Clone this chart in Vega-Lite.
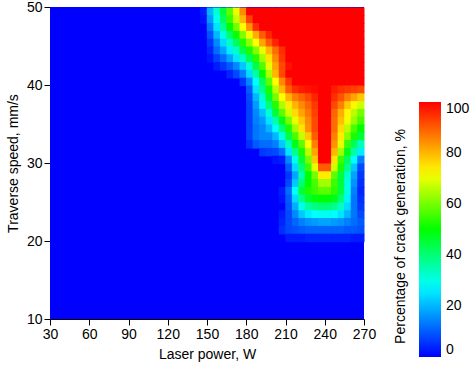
{
"$schema": "https://vega.github.io/schema/vega-lite/v6.json",
"width": 314,
"height": 312,
"autosize": {"type": "none"},
"padding": {"left": 50, "top": 7, "right": 110, "bottom": 47},
"config": {
  "view": {"stroke": null},
  "font": "Liberation Sans",
  "axis": {"labelFont": "Liberation Sans", "titleFont": "Liberation Sans", "labelFontSize": 14, "titleFontSize": 14, "titleFontWeight": "normal", "labelColor": "#000", "titleColor": "#000", "tickColor": "#000", "domainColor": "#000", "tickSize": 6, "grid": false, "labelPadding": 2, "labelFlush": false}
},
"resolve": {"scale": {"y": "independent"}, "axis": {"y": "independent"}},
"layer": [
  {
    "data": {"values": [{"p0": 30, "p1": 270, "s0": 10, "s1": 50, "c": 0}]},
    "mark": {"type": "rect"},
    "encoding": {
      "x": {"field": "p0", "type": "quantitative", "scale": {"domain": [30, 270], "nice": false}, "title": "Laser power, W", "axis": {"values": [30, 60, 90, 120, 150, 180, 210, 240, 270], "titlePadding": 6}},
      "x2": {"field": "p1"},
      "y": {"field": "s0", "type": "quantitative", "scale": {"domain": [10, 50], "nice": false}, "title": "Traverse speed, mm/s", "axis": {"values": [10, 20, 30, 40, 50], "titlePadding": 6}},
      "y2": {"field": "s1"},
      "color": {"field": "c", "type": "quantitative", "title": null,
        "scale": {"domain": [0, 28, 50, 72, 100], "range": ["#0000ff", "#00ffff", "#00ff00", "#ffff00", "#ff0000"], "interpolate": "rgb"},
        "legend": {"type": "gradient", "orient": "none", "legendX": 369, "legendY": 95, "direction": "vertical", "gradientLength": 255, "gradientThickness": 22, "labelFontSize": 14, "labelFont": "Liberation Sans", "labelColor": "#000", "values": [0, 20, 40, 60, 80, 100], "labelOffset": 5, "gradientStrokeWidth": 0, "padding": 0}}
    }
  },
  {
    "data": {"values": [
{"p":145,"s":49,"c":3},{"p":150,"s":49,"c":20},{"p":155,"s":49,"c":32},{"p":160,"s":49,"c":45},{"p":165,"s":49,"c":58},{"p":170,"s":49,"c":70},{"p":175,"s":49,"c":85},{"p":180,"s":49,"c":100},{"p":185,"s":49,"c":100},{"p":190,"s":49,"c":100},{"p":195,"s":49,"c":100},{"p":200,"s":49,"c":100},{"p":205,"s":49,"c":100},{"p":210,"s":49,"c":100},{"p":215,"s":49,"c":100},{"p":220,"s":49,"c":100},{"p":225,"s":49,"c":100},{"p":230,"s":49,"c":100},{"p":235,"s":49,"c":100},{"p":240,"s":49,"c":100},{"p":245,"s":49,"c":100},{"p":250,"s":49,"c":100},{"p":255,"s":49,"c":100},{"p":260,"s":49,"c":100},{"p":265,"s":49,"c":100},
{"p":145,"s":48,"c":2},{"p":150,"s":48,"c":17},{"p":155,"s":48,"c":29},{"p":160,"s":48,"c":42},{"p":165,"s":48,"c":55},{"p":170,"s":48,"c":67},{"p":175,"s":48,"c":80},{"p":180,"s":48,"c":93},{"p":185,"s":48,"c":100},{"p":190,"s":48,"c":100},{"p":195,"s":48,"c":100},{"p":200,"s":48,"c":100},{"p":205,"s":48,"c":100},{"p":210,"s":48,"c":100},{"p":215,"s":48,"c":100},{"p":220,"s":48,"c":100},{"p":225,"s":48,"c":100},{"p":230,"s":48,"c":100},{"p":235,"s":48,"c":100},{"p":240,"s":48,"c":100},{"p":245,"s":48,"c":100},{"p":250,"s":48,"c":100},{"p":255,"s":48,"c":100},{"p":260,"s":48,"c":100},{"p":265,"s":48,"c":100},
{"p":150,"s":47,"c":13},{"p":155,"s":47,"c":25},{"p":160,"s":47,"c":37},{"p":165,"s":47,"c":50},{"p":170,"s":47,"c":60},{"p":175,"s":47,"c":72},{"p":180,"s":47,"c":84},{"p":185,"s":47,"c":95},{"p":190,"s":47,"c":100},{"p":195,"s":47,"c":100},{"p":200,"s":47,"c":100},{"p":205,"s":47,"c":100},{"p":210,"s":47,"c":100},{"p":215,"s":47,"c":100},{"p":220,"s":47,"c":100},{"p":225,"s":47,"c":100},{"p":230,"s":47,"c":100},{"p":235,"s":47,"c":100},{"p":240,"s":47,"c":100},{"p":245,"s":47,"c":100},{"p":250,"s":47,"c":100},{"p":255,"s":47,"c":100},{"p":260,"s":47,"c":100},{"p":265,"s":47,"c":100},
{"p":150,"s":46,"c":9},{"p":155,"s":46,"c":20},{"p":160,"s":46,"c":30},{"p":165,"s":46,"c":41},{"p":170,"s":46,"c":51},{"p":175,"s":46,"c":61},{"p":180,"s":46,"c":71},{"p":185,"s":46,"c":81},{"p":190,"s":46,"c":90},{"p":195,"s":46,"c":96},{"p":200,"s":46,"c":100},{"p":205,"s":46,"c":100},{"p":210,"s":46,"c":100},{"p":215,"s":46,"c":100},{"p":220,"s":46,"c":100},{"p":225,"s":46,"c":100},{"p":230,"s":46,"c":100},{"p":235,"s":46,"c":100},{"p":240,"s":46,"c":100},{"p":245,"s":46,"c":100},{"p":250,"s":46,"c":100},{"p":255,"s":46,"c":100},{"p":260,"s":46,"c":100},{"p":265,"s":46,"c":100},
{"p":150,"s":45,"c":6},{"p":155,"s":45,"c":15},{"p":160,"s":45,"c":24},{"p":165,"s":45,"c":33},{"p":170,"s":45,"c":42},{"p":175,"s":45,"c":53},{"p":180,"s":45,"c":62},{"p":185,"s":45,"c":72},{"p":190,"s":45,"c":82},{"p":195,"s":45,"c":90},{"p":200,"s":45,"c":96},{"p":205,"s":45,"c":100},{"p":210,"s":45,"c":100},{"p":215,"s":45,"c":100},{"p":220,"s":45,"c":100},{"p":225,"s":45,"c":100},{"p":230,"s":45,"c":100},{"p":235,"s":45,"c":100},{"p":240,"s":45,"c":100},{"p":245,"s":45,"c":100},{"p":250,"s":45,"c":100},{"p":255,"s":45,"c":100},{"p":260,"s":45,"c":100},{"p":265,"s":45,"c":100},
{"p":150,"s":44,"c":4},{"p":155,"s":44,"c":12},{"p":160,"s":44,"c":18},{"p":165,"s":44,"c":26},{"p":170,"s":44,"c":33},{"p":175,"s":44,"c":44},{"p":180,"s":44,"c":52},{"p":185,"s":44,"c":61},{"p":190,"s":44,"c":70},{"p":195,"s":44,"c":80},{"p":200,"s":44,"c":88},{"p":205,"s":44,"c":95},{"p":210,"s":44,"c":100},{"p":215,"s":44,"c":100},{"p":220,"s":44,"c":100},{"p":225,"s":44,"c":100},{"p":230,"s":44,"c":100},{"p":235,"s":44,"c":100},{"p":240,"s":44,"c":100},{"p":245,"s":44,"c":100},{"p":250,"s":44,"c":100},{"p":255,"s":44,"c":100},{"p":260,"s":44,"c":100},{"p":265,"s":44,"c":100},
{"p":150,"s":43,"c":2},{"p":155,"s":43,"c":7},{"p":160,"s":43,"c":12},{"p":165,"s":43,"c":18},{"p":170,"s":43,"c":25},{"p":175,"s":43,"c":33},{"p":180,"s":43,"c":43},{"p":185,"s":43,"c":53},{"p":190,"s":43,"c":64},{"p":195,"s":43,"c":75},{"p":200,"s":43,"c":85},{"p":205,"s":43,"c":94},{"p":210,"s":43,"c":100},{"p":215,"s":43,"c":100},{"p":220,"s":43,"c":100},{"p":225,"s":43,"c":100},{"p":230,"s":43,"c":100},{"p":235,"s":43,"c":100},{"p":240,"s":43,"c":100},{"p":245,"s":43,"c":100},{"p":250,"s":43,"c":100},{"p":255,"s":43,"c":100},{"p":260,"s":43,"c":100},{"p":265,"s":43,"c":100},
{"p":155,"s":42,"c":3},{"p":160,"s":42,"c":6},{"p":165,"s":42,"c":10},{"p":170,"s":42,"c":15},{"p":175,"s":42,"c":22},{"p":180,"s":42,"c":32},{"p":185,"s":42,"c":44},{"p":190,"s":42,"c":57},{"p":195,"s":42,"c":70},{"p":200,"s":42,"c":82},{"p":205,"s":42,"c":92},{"p":210,"s":42,"c":98},{"p":215,"s":42,"c":100},{"p":220,"s":42,"c":100},{"p":225,"s":42,"c":100},{"p":230,"s":42,"c":100},{"p":235,"s":42,"c":100},{"p":240,"s":42,"c":100},{"p":245,"s":42,"c":100},{"p":250,"s":42,"c":100},{"p":255,"s":42,"c":100},{"p":260,"s":42,"c":100},{"p":265,"s":42,"c":100},
{"p":165,"s":41,"c":4},{"p":170,"s":41,"c":8},{"p":175,"s":41,"c":14},{"p":180,"s":41,"c":24},{"p":185,"s":41,"c":36},{"p":190,"s":41,"c":50},{"p":195,"s":41,"c":65},{"p":200,"s":41,"c":80},{"p":205,"s":41,"c":92},{"p":210,"s":41,"c":100},{"p":215,"s":41,"c":100},{"p":220,"s":41,"c":100},{"p":225,"s":41,"c":100},{"p":230,"s":41,"c":100},{"p":235,"s":41,"c":100},{"p":240,"s":41,"c":100},{"p":245,"s":41,"c":100},{"p":250,"s":41,"c":100},{"p":255,"s":41,"c":100},{"p":260,"s":41,"c":100},{"p":265,"s":41,"c":100},
{"p":175,"s":40,"c":6},{"p":180,"s":40,"c":15},{"p":185,"s":40,"c":28},{"p":190,"s":40,"c":42},{"p":195,"s":40,"c":58},{"p":200,"s":40,"c":72},{"p":205,"s":40,"c":85},{"p":210,"s":40,"c":94},{"p":215,"s":40,"c":100},{"p":220,"s":40,"c":100},{"p":225,"s":40,"c":100},{"p":230,"s":40,"c":100},{"p":235,"s":40,"c":100},{"p":240,"s":40,"c":100},{"p":245,"s":40,"c":100},{"p":250,"s":40,"c":100},{"p":255,"s":40,"c":100},{"p":260,"s":40,"c":100},{"p":265,"s":40,"c":100},
{"p":180,"s":39,"c":10},{"p":185,"s":39,"c":25},{"p":190,"s":39,"c":38},{"p":195,"s":39,"c":52},{"p":200,"s":39,"c":66},{"p":205,"s":39,"c":80},{"p":210,"s":39,"c":90},{"p":215,"s":39,"c":95},{"p":220,"s":39,"c":97},{"p":225,"s":39,"c":98},{"p":230,"s":39,"c":99},{"p":235,"s":39,"c":100},{"p":240,"s":39,"c":100},{"p":245,"s":39,"c":97},{"p":250,"s":39,"c":95},{"p":255,"s":39,"c":94},{"p":260,"s":39,"c":93},{"p":265,"s":39,"c":92},
{"p":180,"s":38,"c":8},{"p":185,"s":38,"c":20},{"p":190,"s":38,"c":32},{"p":195,"s":38,"c":46},{"p":200,"s":38,"c":60},{"p":205,"s":38,"c":72},{"p":210,"s":38,"c":80},{"p":215,"s":38,"c":86},{"p":220,"s":38,"c":89},{"p":225,"s":38,"c":92},{"p":230,"s":38,"c":96},{"p":235,"s":38,"c":100},{"p":240,"s":38,"c":100},{"p":245,"s":38,"c":95},{"p":250,"s":38,"c":91},{"p":255,"s":38,"c":86},{"p":260,"s":38,"c":82},{"p":265,"s":38,"c":78},
{"p":180,"s":37,"c":7},{"p":185,"s":37,"c":17},{"p":190,"s":37,"c":27},{"p":195,"s":37,"c":40},{"p":200,"s":37,"c":53},{"p":205,"s":37,"c":65},{"p":210,"s":37,"c":74},{"p":215,"s":37,"c":80},{"p":220,"s":37,"c":85},{"p":225,"s":37,"c":89},{"p":230,"s":37,"c":94},{"p":235,"s":37,"c":100},{"p":240,"s":37,"c":100},{"p":245,"s":37,"c":92},{"p":250,"s":37,"c":86},{"p":255,"s":37,"c":78},{"p":260,"s":37,"c":73},{"p":265,"s":37,"c":68},
{"p":180,"s":36,"c":7},{"p":185,"s":36,"c":15},{"p":190,"s":36,"c":21},{"p":195,"s":36,"c":32},{"p":200,"s":36,"c":45},{"p":205,"s":36,"c":58},{"p":210,"s":36,"c":68},{"p":215,"s":36,"c":76},{"p":220,"s":36,"c":82},{"p":225,"s":36,"c":87},{"p":230,"s":36,"c":93},{"p":235,"s":36,"c":100},{"p":240,"s":36,"c":100},{"p":245,"s":36,"c":89},{"p":250,"s":36,"c":81},{"p":255,"s":36,"c":73},{"p":260,"s":36,"c":66},{"p":265,"s":36,"c":60},
{"p":180,"s":35,"c":7},{"p":185,"s":35,"c":14},{"p":190,"s":35,"c":17},{"p":195,"s":35,"c":25},{"p":200,"s":35,"c":35},{"p":205,"s":35,"c":48},{"p":210,"s":35,"c":60},{"p":215,"s":35,"c":70},{"p":220,"s":35,"c":78},{"p":225,"s":35,"c":85},{"p":230,"s":35,"c":92},{"p":235,"s":35,"c":100},{"p":240,"s":35,"c":100},{"p":245,"s":35,"c":88},{"p":250,"s":35,"c":79},{"p":255,"s":35,"c":71},{"p":260,"s":35,"c":63},{"p":265,"s":35,"c":56},
{"p":180,"s":34,"c":7},{"p":185,"s":34,"c":13},{"p":190,"s":34,"c":15},{"p":195,"s":34,"c":20},{"p":200,"s":34,"c":28},{"p":205,"s":34,"c":40},{"p":210,"s":34,"c":52},{"p":215,"s":34,"c":64},{"p":220,"s":34,"c":75},{"p":225,"s":34,"c":84},{"p":230,"s":34,"c":92},{"p":235,"s":34,"c":100},{"p":240,"s":34,"c":100},{"p":245,"s":34,"c":88},{"p":250,"s":34,"c":76},{"p":255,"s":34,"c":66},{"p":260,"s":34,"c":56},{"p":265,"s":34,"c":50},
{"p":180,"s":33,"c":7},{"p":185,"s":33,"c":13},{"p":190,"s":33,"c":15},{"p":195,"s":33,"c":15},{"p":200,"s":33,"c":20},{"p":205,"s":33,"c":30},{"p":210,"s":33,"c":44},{"p":215,"s":33,"c":56},{"p":220,"s":33,"c":67},{"p":225,"s":33,"c":78},{"p":230,"s":33,"c":90},{"p":235,"s":33,"c":100},{"p":240,"s":33,"c":100},{"p":245,"s":33,"c":86},{"p":250,"s":33,"c":74},{"p":255,"s":33,"c":62},{"p":260,"s":33,"c":52},{"p":265,"s":33,"c":45},
{"p":180,"s":32,"c":5},{"p":185,"s":32,"c":10},{"p":190,"s":32,"c":12},{"p":195,"s":32,"c":12},{"p":200,"s":32,"c":14},{"p":205,"s":32,"c":22},{"p":210,"s":32,"c":34},{"p":215,"s":32,"c":48},{"p":220,"s":32,"c":58},{"p":225,"s":32,"c":72},{"p":230,"s":32,"c":86},{"p":235,"s":32,"c":100},{"p":240,"s":32,"c":100},{"p":245,"s":32,"c":84},{"p":250,"s":32,"c":70},{"p":255,"s":32,"c":55},{"p":260,"s":32,"c":42},{"p":265,"s":32,"c":34},
{"p":190,"s":31,"c":6},{"p":195,"s":31,"c":7},{"p":200,"s":31,"c":8},{"p":205,"s":31,"c":12},{"p":210,"s":31,"c":25},{"p":215,"s":31,"c":38},{"p":220,"s":31,"c":52},{"p":225,"s":31,"c":66},{"p":230,"s":31,"c":82},{"p":235,"s":31,"c":100},{"p":240,"s":31,"c":100},{"p":245,"s":31,"c":80},{"p":250,"s":31,"c":64},{"p":255,"s":31,"c":48},{"p":260,"s":31,"c":36},{"p":265,"s":31,"c":26},
{"p":200,"s":30,"c":2},{"p":205,"s":30,"c":3},{"p":210,"s":30,"c":15},{"p":215,"s":30,"c":30},{"p":220,"s":30,"c":45},{"p":225,"s":30,"c":60},{"p":230,"s":30,"c":78},{"p":235,"s":30,"c":100},{"p":240,"s":30,"c":100},{"p":245,"s":30,"c":75},{"p":250,"s":30,"c":55},{"p":255,"s":30,"c":42},{"p":260,"s":30,"c":28},{"p":265,"s":30,"c":14},
{"p":210,"s":29,"c":10},{"p":215,"s":29,"c":24},{"p":220,"s":29,"c":40},{"p":225,"s":29,"c":55},{"p":230,"s":29,"c":70},{"p":235,"s":29,"c":90},{"p":240,"s":29,"c":90},{"p":245,"s":29,"c":68},{"p":250,"s":29,"c":52},{"p":255,"s":29,"c":38},{"p":260,"s":29,"c":22},{"p":265,"s":29,"c":8},
{"p":210,"s":28,"c":6},{"p":215,"s":28,"c":18},{"p":220,"s":28,"c":35},{"p":225,"s":28,"c":50},{"p":230,"s":28,"c":60},{"p":235,"s":28,"c":74},{"p":240,"s":28,"c":74},{"p":245,"s":28,"c":58},{"p":250,"s":28,"c":45},{"p":255,"s":28,"c":32},{"p":260,"s":28,"c":18},{"p":265,"s":28,"c":6},
{"p":210,"s":27,"c":8},{"p":215,"s":27,"c":22},{"p":220,"s":27,"c":40},{"p":225,"s":27,"c":50},{"p":230,"s":27,"c":56},{"p":235,"s":27,"c":64},{"p":240,"s":27,"c":64},{"p":245,"s":27,"c":55},{"p":250,"s":27,"c":45},{"p":255,"s":27,"c":30},{"p":260,"s":27,"c":16},{"p":265,"s":27,"c":5},
{"p":205,"s":26,"c":3},{"p":210,"s":26,"c":12},{"p":215,"s":26,"c":28},{"p":220,"s":26,"c":45},{"p":225,"s":26,"c":52},{"p":230,"s":26,"c":55},{"p":235,"s":26,"c":58},{"p":240,"s":26,"c":58},{"p":245,"s":26,"c":54},{"p":250,"s":26,"c":45},{"p":255,"s":26,"c":30},{"p":260,"s":26,"c":14},{"p":265,"s":26,"c":4},
{"p":205,"s":25,"c":2},{"p":210,"s":25,"c":10},{"p":215,"s":25,"c":24},{"p":220,"s":25,"c":38},{"p":225,"s":25,"c":46},{"p":230,"s":25,"c":49},{"p":235,"s":25,"c":50},{"p":240,"s":25,"c":50},{"p":245,"s":25,"c":48},{"p":250,"s":25,"c":40},{"p":255,"s":25,"c":27},{"p":260,"s":25,"c":13},{"p":265,"s":25,"c":5},
{"p":210,"s":24,"c":9},{"p":215,"s":24,"c":19},{"p":220,"s":24,"c":30},{"p":225,"s":24,"c":36},{"p":230,"s":24,"c":39},{"p":235,"s":24,"c":40},{"p":240,"s":24,"c":40},{"p":245,"s":24,"c":38},{"p":250,"s":24,"c":33},{"p":255,"s":24,"c":24},{"p":260,"s":24,"c":13},{"p":265,"s":24,"c":6},
{"p":205,"s":23,"c":3},{"p":210,"s":23,"c":8},{"p":215,"s":23,"c":15},{"p":220,"s":23,"c":22},{"p":225,"s":23,"c":26},{"p":230,"s":23,"c":28},{"p":235,"s":23,"c":29},{"p":240,"s":23,"c":29},{"p":245,"s":23,"c":28},{"p":250,"s":23,"c":25},{"p":255,"s":23,"c":20},{"p":260,"s":23,"c":13},{"p":265,"s":23,"c":8},
{"p":205,"s":22,"c":4},{"p":210,"s":22,"c":8},{"p":215,"s":22,"c":11},{"p":220,"s":22,"c":14},{"p":225,"s":22,"c":16},{"p":230,"s":22,"c":17},{"p":235,"s":22,"c":18},{"p":240,"s":22,"c":18},{"p":245,"s":22,"c":17},{"p":250,"s":22,"c":16},{"p":255,"s":22,"c":14},{"p":260,"s":22,"c":12},{"p":265,"s":22,"c":10},
{"p":205,"s":21,"c":5},{"p":210,"s":21,"c":8},{"p":215,"s":21,"c":9},{"p":220,"s":21,"c":10},{"p":225,"s":21,"c":11},{"p":230,"s":21,"c":11},{"p":235,"s":21,"c":11},{"p":240,"s":21,"c":11},{"p":245,"s":21,"c":11},{"p":250,"s":21,"c":11},{"p":255,"s":21,"c":10},{"p":260,"s":21,"c":10},{"p":265,"s":21,"c":9},
{"p":210,"s":20,"c":3},{"p":215,"s":20,"c":3},{"p":220,"s":20,"c":3},{"p":225,"s":20,"c":4},{"p":230,"s":20,"c":4},{"p":235,"s":20,"c":4},{"p":240,"s":20,"c":4},{"p":245,"s":20,"c":4},{"p":250,"s":20,"c":4},{"p":255,"s":20,"c":4},{"p":260,"s":20,"c":3},{"p":265,"s":20,"c":3}
    ]},
    "mark": {"type": "rect", "binSpacing": 0, "x2Offset": -0.7, "y2Offset": 0.7},
    "encoding": {
      "x": {"field": "p", "type": "quantitative", "bin": {"binned": true, "step": 5}, "title": "Laser power, W", "axis": {"values": [30, 60, 90, 120, 150, 180, 210, 240, 270], "titlePadding": 6}},
      "y": {"field": "s", "type": "quantitative", "bin": {"binned": true, "step": 1}, "scale": {"domain": [10, 50], "nice": false}, "title": "Percentage of crack generation, %", "axis": {"orient": "right", "labels": false, "ticks": false, "domain": false, "titleAngle": 270, "titleX": 36, "titleY": 229, "titleAlign": "center", "titleBaseline": "middle"}},
      "color": {"field": "c", "type": "quantitative", "title": null}
    }
  }
]
}
